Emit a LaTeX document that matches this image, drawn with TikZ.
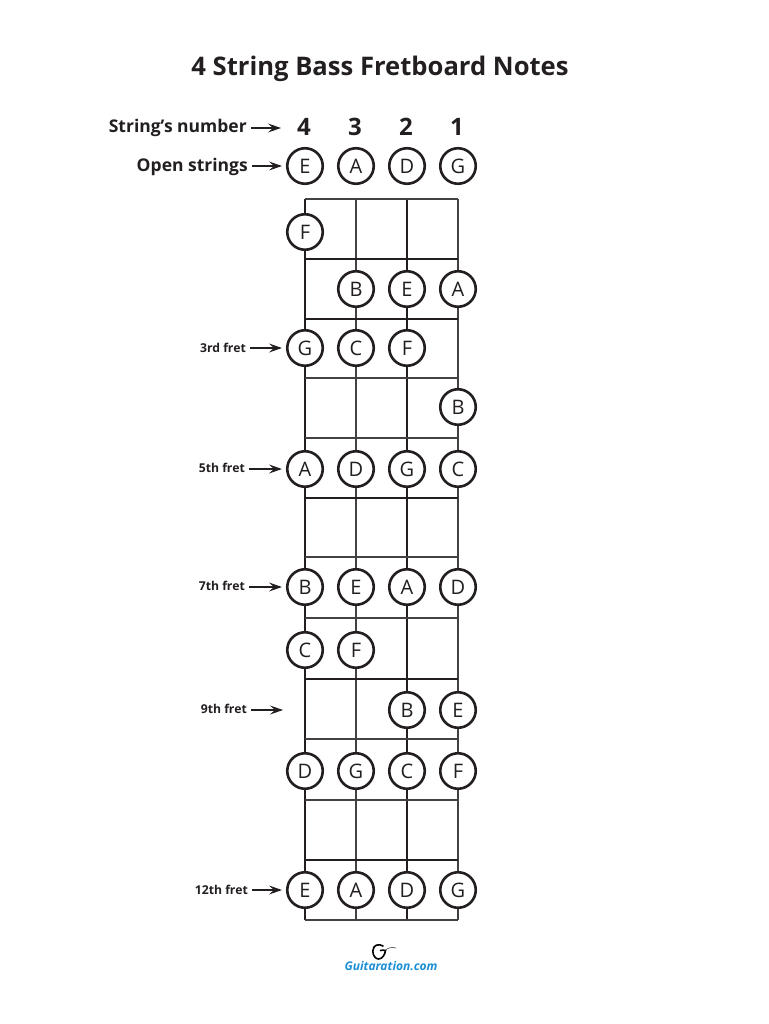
\documentclass[tikz,border=0pt]{standalone}
\usepackage{fontspec}
\setmainfont{Open Sans}
\usetikzlibrary{arrows.meta,
	positioning}

\definecolor{inkgrey}{HTML}{231F20}
\definecolor{logoblue}{HTML}{1B8FD6}

\tikzset{
	note/.style={circle,draw=inkgrey,line width=2.6pt,fill=white,text=inkgrey,minimum size=35.5pt,inner sep=0pt,font=\fontsize{20}{20}\selectfont},
	strnum/.style={text=inkgrey,inner sep=0pt,font=\fontsize{24}{24}\selectfont\bfseries},
	biglabel/.style={anchor=east,text=inkgrey,inner sep=0pt,font=\fontsize{17.5}{17.5}\selectfont\bfseries},
	fretlabel/.style={anchor=east,text=inkgrey,inner sep=0pt,font=\fontsize{12.2}{12.2}\selectfont\bfseries},
	pointer/.style={-{Stealth[length=13pt,width=9pt,inset=5pt]},draw=inkgrey,line width=1.1pt,shorten <=4pt,shorten >=4pt},
	thickline/.style={draw=inkgrey,line width=2.1pt},
	thinline/.style={draw=inkgrey!85,line width=1.2pt}
}

\begin{document}
\begin{tikzpicture}[x=1pt,y=-1pt]
        \useasboundingbox (0,0) rectangle (768,1024);

        \node[text=inkgrey,inner sep=0pt,font=\fontsize{25.6}{25.6}\selectfont\bfseries] (title) at (380,69) {4 String Bass Fretboard Notes};

        % strings
        \coordinate (s4top) at (305,199);
        \coordinate (s3top) at (356,199);
        \coordinate (s2top) at (407,199);
        \coordinate (s1top) at (458,199);
        \coordinate (s4end) at (305,920);
        \coordinate (s3end) at (356,920);
        \coordinate (s2end) at (407,920);
        \coordinate (s1end) at (458,920);
        \draw[thickline] (s4top)--(s4end);
        \draw[thinline] (s3top)--(s3end);
        \draw[thickline] (s2top)--(s2end);
        \draw[thinline] (s1top)--(s1end);

        % frets
        \coordinate (f1) at (305,259);
        \coordinate (f2) at (305,319);
        \coordinate (f3) at (305,378);
        \coordinate (f4) at (305,438);
        \coordinate (f5) at (305,498);
        \coordinate (f6) at (305,557);
        \coordinate (f7) at (305,618);
        \coordinate (f8) at (305,679);
        \coordinate (f9) at (305,739);
        \coordinate (f10) at (305,800);
        \coordinate (f11) at (305,860);
        \draw[thinline] (s4top)--(s1top);
        \draw[thickline] (f1)--(f1-|s1top);
        \draw[thickline] (f2)--(f2-|s1top);
        \draw[thinline] (f3)--(f3-|s1top);
        \draw[thinline] (f4)--(f4-|s1top);
        \draw[thickline] (f5)--(f5-|s1top);
        \draw[thinline] (f6)--(f6-|s1top);
        \draw[thinline] (f7)--(f7-|s1top);
        \draw[thickline] (f8)--(f8-|s1top);
        \draw[thinline] (f9)--(f9-|s1top);
        \draw[thinline] (f10)--(f10-|s1top);
        \draw[thickline] (f11)--(f11-|s1top);
        \draw[thinline] (s4end)--(s1end);

        % string numbers
        \node[strnum] (num4) at (304,127) {4};
        \node[strnum] (num3) at (355,127) {3};
        \node[strnum] (num2) at (406,127) {2};
        \node[strnum] (num1) at (457,127) {1};

        % open strings
        \node[note] (open4) at (305,166) {E};
        \node[note] (open3) at (356,166) {A};
        \node[note] (open2) at (407,166) {D};
        \node[note] (open1) at (458,166) {G};

        % notes on the neck
        \node[note] (f1s4) at (305,232) {F};

        \node[note] (f2s3) at (356,289) {B};
        \node[note] (f2s2) at (407,289) {E};
        \node[note] (f2s1) at (458,289) {A};

        \node[note] (f3s4) at (305,348) {G};
        \node[note] (f3s3) at (356,348) {C};
        \node[note] (f3s2) at (407,348) {F};

        \node[note] (f4s1) at (458,407) {B};

        \node[note] (f5s4) at (305,469) {A};
        \node[note] (f5s3) at (356,469) {D};
        \node[note] (f5s2) at (407,469) {G};
        \node[note] (f5s1) at (458,469) {C};

        \node[note] (f7s4) at (305,587) {B};
        \node[note] (f7s3) at (356,587) {E};
        \node[note] (f7s2) at (407,587) {A};
        \node[note] (f7s1) at (458,587) {D};

        \node[note] (f8s4) at (305,650) {C};
        \node[note] (f8s3) at (356,650) {F};

        \node[note] (f9s2) at (407,710) {B};
        \node[note] (f9s1) at (458,710) {E};

        \node[note] (f10s4) at (305,771) {D};
        \node[note] (f10s3) at (356,771) {G};
        \node[note] (f10s2) at (407,771) {C};
        \node[note] (f10s1) at (458,771) {F};

        \node[note] (f12s4) at (305,890) {E};
        \node[note] (f12s3) at (356,890) {A};
        \node[note] (f12s2) at (407,890) {D};
        \node[note] (f12s1) at (458,890) {G};

        % labels at the left
        \node[biglabel] (lblnumber) at (247,128) {String’s number};
        \node[biglabel] (lblopen) at (248,167) {Open strings};
        \node[fretlabel] (lblthird) at (246,347.5) {3rd fret};
        \node[fretlabel] (lblfifth) at (245,467.5) {5th fret};
        \node[fretlabel] (lblseventh) at (245,585.5) {7th fret};
        \node[fretlabel] (lblninth) at (247,708.5) {9th fret};
        \node[fretlabel] (lbltwelfth) at (248,889.5) {12th fret};

        \coordinate (numend) at (285,128);
        \coordinate (ninthend) at (287,710);
        \draw[pointer] (lblnumber.east|-numend)--(numend);
        \draw[pointer] (lblopen.east|-open4.west)--(open4.west);
        \draw[pointer] (lblthird.east|-f3s4.west)--(f3s4.west);
        \draw[pointer] (lblfifth.east|-f5s4.west)--(f5s4.west);
        \draw[pointer] (lblseventh.east|-f7s4.west)--(f7s4.west);
        \draw[pointer] (lblninth.east|-ninthend)--(ninthend);
        \draw[pointer] (lbltwelfth.east|-f12s4.west)--(f12s4.west);

        % logo
        \draw[draw=black,line width=1.6pt,line cap=round] (383,946) .. controls (379,943.5) and (373,944.5) .. (372.8,951) .. controls (372.8,956) and (376,959) .. (378.5,959) .. controls (382,959) and (385,955) .. (385.5,950.5) .. controls (384,950) and (382,950) .. (380.5,950.5);
        \draw[draw=black!60,line width=0.7pt] (385.5,950) .. controls (388,948) and (392,946.5) .. (396,948);
        \node[text=logoblue,inner sep=0pt,font=\fontsize{12}{12}\selectfont\bfseries\itshape] (logotext) at (391,966.5) {Guitaration.com};

    \end{tikzpicture}
\end{document}
